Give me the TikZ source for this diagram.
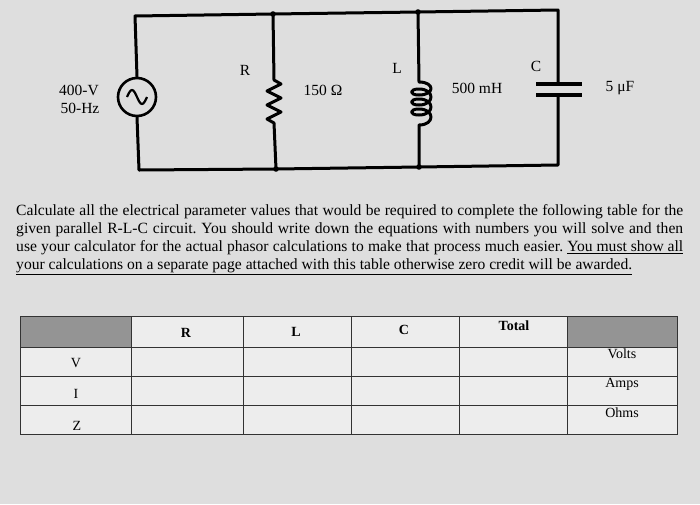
\documentclass[tikz,border=0pt]{standalone}
\usepackage{fontspec}
\setmainfont{Liberation Serif}
\usetikzlibrary{calc}
\begin{document}
\frenchspacing
\begin{tikzpicture}[x=1pt,y=-1pt,
  wire/.style={line width=3pt,line cap=round,line join=round},
  lbl/.style={font=\fontsize{15.5}{16}\selectfont,inner sep=0pt},
  para/.style={font=\fontsize{15.6}{17}\selectfont,inner sep=0pt,anchor=west},
  cell/.style={draw=black!80,line width=0.8pt},
  hdr/.style={cell,fill=black!42},
  ttxt/.style={font=\fontsize{14}{15}\selectfont,inner sep=0pt},
  btxt/.style={font=\bfseries\fontsize{14}{15}\selectfont,inner sep=0pt}]
\fill[black!13] (0,0) rectangle (700,504);
% circuit coordinates
\coordinate (tl) at (135,16); \coordinate (tr) at (558,10);
\coordinate (bl) at (139,170); \coordinate (br) at (558,165);
\coordinate (tR) at (273,14); \coordinate (bR) at (276,169);
\coordinate (tL) at (418,12); \coordinate (bL) at (419,167);
% source
\node[draw,line width=2.6pt,circle,minimum size=38pt,inner sep=0pt] (src) at (137,97) {};
\draw[line width=2.2pt] ($(src.center)+(-10,0)$) sin ++(5,-7) cos ++(5,7) sin ++(5,7) cos ++(5,-7);
\draw[wire] (src.north) -- (tl) -- (tR) -- (tL) -- (tr) -- (558,84);
\draw[wire] (src.south) -- (bl) -- (bR) -- (bL) -- (br) -- (558,95);
% resistor
\draw[wire] (tR) -- (274,80) -- ++(7,4) -- ++(-14,7) -- ++(14,7) -- ++(-14,7) -- ++(14,7) -- ++(-14,7) -- ++(7,4) -- (bR);
% inductor
\draw[wire] (tL) -- (419,82)
  .. controls (435,82) and (435,95) .. (419,95)
  .. controls (409,95) and (409,89) .. (419,89)
  .. controls (435,89) and (435,105) .. (419,105)
  .. controls (409,105) and (409,99) .. (419,99)
  .. controls (435,99) and (435,115) .. (419,115)
  .. controls (409,115) and (409,109) .. (419,109)
  .. controls (435,109) and (435,125) .. (419,125) -- (bL);
% capacitor
\draw[line width=3.2pt] (536,84) -- (582,84) (536,95) -- (582,95);
\foreach \p in {tR,tL,bR,bL} \fill (\p) circle (2.8pt);
\node[lbl] (v) at (79,90) {400-V};
\node[lbl] (f) at (80,108) {50-Hz};
\node[lbl] (rl) at (245,70) {R};
\node[lbl] (rv) at (323,90) {150 Ω};
\node[lbl] (ll) at (397,68) {L};
\node[lbl] (lv) at (477,88) {500 mH};
\node[lbl] (cl) at (536,66) {C};
\node[lbl] (cv) at (620,88) {5 μF};
% paragraph
\node[para] (p1) at (16,212) {\hbox to 667pt{Calculate all the electrical parameter values that would be required to complete the following table for the}};
\node[para] (p2) at (16,230) {\hbox to 667pt{given parallel R-L-C circuit. You should write down the equations with numbers you will solve and then}};
\node[para] (p3) at (16,248) {\hbox to 667pt{use your calculator for the actual phasor calculations to make that process much easier. \underline{You must show all}}};
\node[para] (p4) at (16,267) {\underline{your calculations on a separate page attached with this table otherwise zero credit will be awarded.}};
% table
\def\xs{{20,131,243,351,459,567,677}}
\def\ys{{316,347,376,405,434}}
\foreach \c in {0,...,5}{
  \foreach \r in {0,...,3}{
    \pgfmathsetmacro\xa{\xs[\c]}\pgfmathsetmacro\xb{\xs[\c+1]}
    \pgfmathsetmacro\ya{\ys[\r]}\pgfmathsetmacro\yb{\ys[\r+1]}
    \draw[cell,fill=black!7] (\xa,\ya) rectangle (\xb,\yb);
  }}
\draw[hdr] (20,316) rectangle (131,347);
\draw[hdr] (567,316) rectangle (677,347);
\node[btxt] (hR) at (186,333) {R};
\node[btxt] (hL) at (296,332) {L};
\node[btxt] (hC) at (404,330) {C};
\node[btxt] (hT) at (514,326) {Total};
\node[ttxt] (rV) at (76,363) {V};
\node[ttxt] (rI) at (76,394) {I};
\node[ttxt] (rZ) at (77,426) {Z};
\node[ttxt] (uV) at (622,354) {Volts};
\node[ttxt] (uA) at (622,384) {Amps};
\node[ttxt] (uO) at (622,413) {Ohms};
\end{tikzpicture}
\end{document}
